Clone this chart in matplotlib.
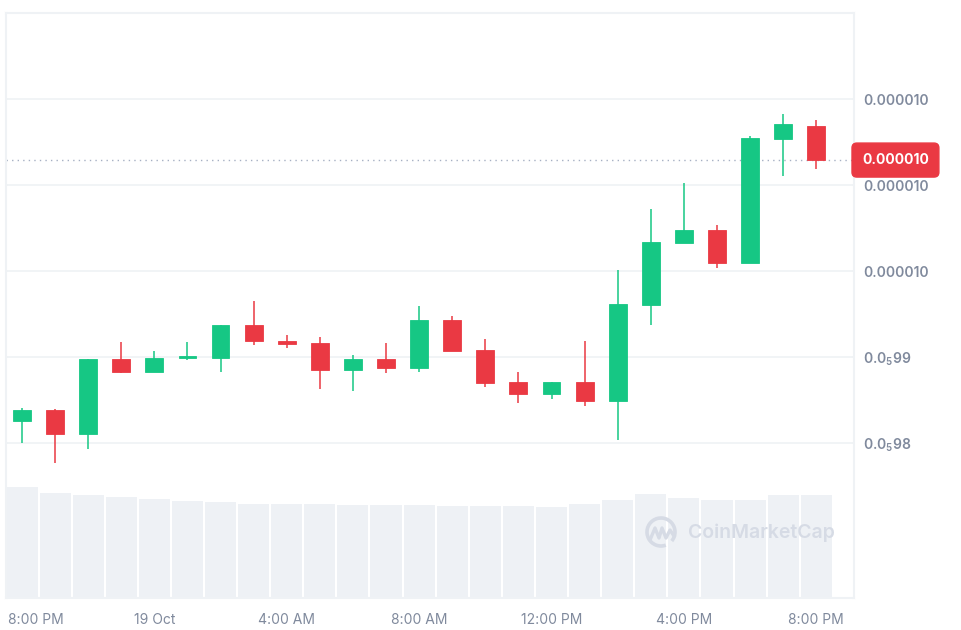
import numpy as np
import matplotlib
matplotlib.use("Agg")
from matplotlib import pyplot as plt
from matplotlib.patches import Arc, Rectangle
from matplotlib.transforms import blended_transform_factory, offset_copy

plt.rcParams['font.family'] = ['Inter', 'DejaVu Sans']
plt.rcParams['mathtext.fontset'] = 'custom'
plt.rcParams['mathtext.rm'] = 'Inter:semibold'
plt.rcParams['mathtext.it'] = 'Inter:semibold'

# hourly candles, 18 Oct 8 PM -> 19 Oct 8 PM (prices in units of 1e-8)
opens = np.array([982.6, 983.8, 981.0, 989.8, 988.2, 989.85, 989.9, 993.7, 991.9, 991.6,
                  988.5, 989.8, 988.7, 994.3, 990.85, 987.1, 985.7, 987.1, 984.9, 996.1,
                  1003.3, 1004.8, 1000.9, 1015.4, 1016.9]) * 1e-8
highs = np.array([984.1, 983.9, 989.8, 991.8, 990.7, 991.8, 993.7, 996.5, 992.6, 992.3,
                  990.2, 991.6, 995.9, 994.8, 992.1, 988.3, 987.1, 991.9, 1000.1, 1007.2,
                  1010.2, 1005.3, 1015.7, 1018.2, 1017.6]) * 1e-8
lows = np.array([980.0, 977.7, 979.3, 988.1, 988.2, 989.6, 988.2, 991.4, 991.1, 986.3,
                 986.1, 988.1, 988.3, 990.7, 986.5, 984.6, 985.1, 984.3, 980.35, 993.7,
                 1003.3, 1000.3, 1000.9, 1011.0, 1011.9]) * 1e-8
closes = np.array([983.8, 981.0, 989.8, 988.2, 989.9, 990.1, 993.7, 991.9, 991.55, 988.5,
                   989.8, 988.7, 994.3, 990.7, 987.0, 985.7, 987.1, 984.9, 996.2, 1003.4,
                   1004.8, 1000.9, 1015.5, 1017.1, 1012.9]) * 1e-8
# volume, relative units
volumes = [110.7, 105, 102.7, 101.3, 98.7, 97, 95.7, 94.3, 94.3, 94.3, 93, 93, 93, 92, 92,
           92, 90.7, 94.3, 98.3, 104, 100, 98.3, 98.3, 102.7, 102.7]

x_ticks = [0, 4, 8, 12, 16, 20, 24]
x_labels = ['8:00 PM', '19 Oct', '4:00 AM', '8:00 AM', '12:00 PM', '4:00 PM', '8:00 PM']
y_ticks = np.array([980, 990, 1000, 1010, 1020]) * 1e-8
y_labels = ['0.0$_5$98', '0.0$_5$99', '0.000010', '0.000010', '0.000010']
last_label = '0.000010'

GREEN = '#16c784'
RED = '#ea3943'
GRID = '#eff2f5'
TXT = '#808a9d'

W, H = 962, 630
fig = plt.figure(figsize=(W / 100, H / 100), dpi=100)
rect = [6 / W, 32 / H, 848 / W, 585 / H]

# volume behind
axv = fig.add_axes(rect)
n = len(closes)
idx = np.arange(n)
axv.bar(idx, volumes, width=0.94, color='#eef1f5', zorder=1)
axv.set_ylim(0, 585)
axv.set_xlim(-0.483, 25.14)
axv.axis('off')

ax = fig.add_axes(rect)
ax.patch.set_visible(False)
ax.set_xlim(-0.483, 25.14)
ax.set_ylim(961.98e-8, 1030e-8)

for i in idx:
    up = closes[i] >= opens[i]
    c = GREEN if up else RED
    ax.vlines(i, lows[i], highs[i], color=c, linewidth=1.1, zorder=3)
    lo = min(opens[i], closes[i])
    h = max(abs(closes[i] - opens[i]), 0.25e-8)
    ax.add_patch(Rectangle((i - 0.27, lo), 0.54, h, facecolor=c, edgecolor=c,
                           linewidth=0.6, zorder=4))

ax.set_yticks(y_ticks)
ax.set_yticklabels(y_labels)
ax.yaxis.tick_right()
ax.grid(axis='y', color=GRID, linewidth=1.2, zorder=0)
ax.tick_params(axis='y', length=0, pad=6.5, labelsize=10, labelcolor=TXT)
for t in ax.get_yticklabels():
    t.set_fontweight('semibold')

ax.set_xticks(x_ticks)
ax.set_xticklabels(x_labels)
ax.tick_params(axis='x', length=0, pad=11, labelsize=10, labelcolor=TXT)
first = ax.get_xticklabels()[0]
first.set_horizontalalignment('left')
first.set_transform(offset_copy(first.get_transform(), fig=fig, x=-14, y=0, units='dots'))

for s in ax.spines.values():
    s.set_color(GRID)
    s.set_linewidth(1.5)

# last price line and tag
last = closes[-1]
ax.axhline(last, color='#a6b0c3', linestyle=(0, (1, 3)), linewidth=1, zorder=2)
tr = blended_transform_factory(ax.transAxes, ax.transData)
ax.text(1.0, last, last_label, transform=offset_copy(tr, fig=fig, x=8, y=0, units='dots'),
        ha='left', va='center', color='white', fontsize=10, fontweight='bold',
        bbox=dict(boxstyle='round,pad=0.72,rounding_size=0.35', facecolor=RED, edgecolor=RED),
        clip_on=False, zorder=6)

# watermark
wm = '#d6dbe5'
fig.text(688 / W, 1 - 533 / H, 'CoinMarketCap', color=wm, fontsize=14, fontweight='semibold',
         ha='left', va='center')
cx, cy = 661 / W, 1 - 532 / H
logo = Arc((661, H - 532), 28, 28, theta1=-40, theta2=290, color=wm, linewidth=2.6,
           transform=None)
fig.add_artist(logo)
mx = np.array([650, 655, 659, 662, 666, 670, 674])
my = np.array([540, 528, 538, 528, 538, 530, 536])
fig.add_artist(plt.Line2D(mx / W, 1 - my / H, color=wm, linewidth=2.4,
                          transform=fig.transFigure))

fig.savefig('out.png', dpi=100)
